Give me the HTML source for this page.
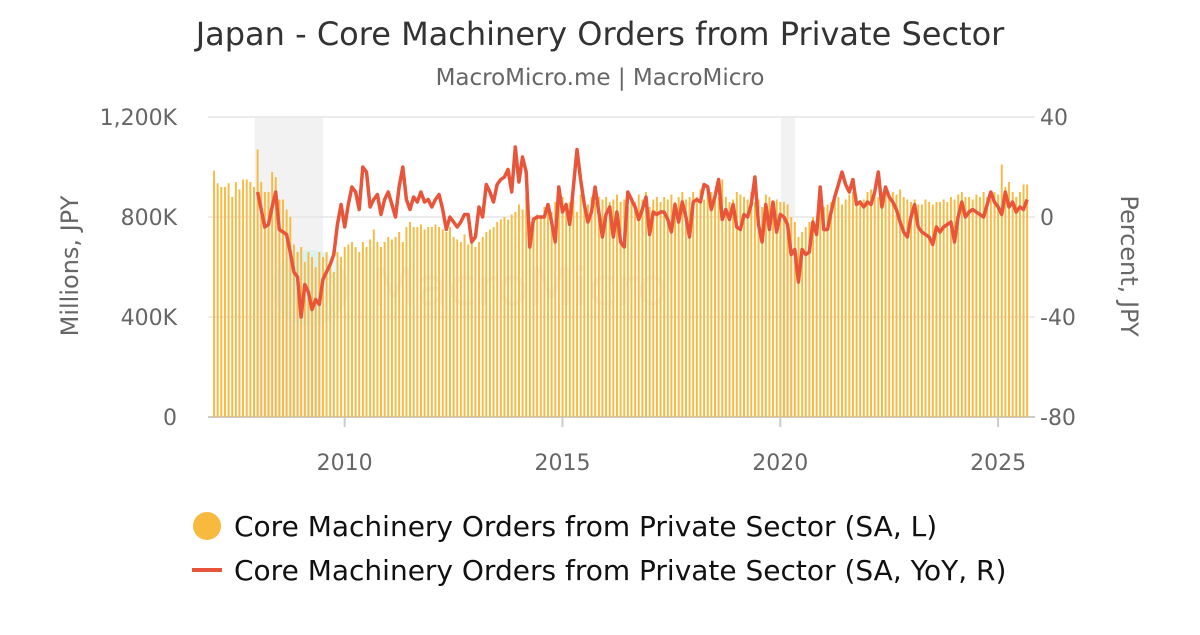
<!DOCTYPE html>
<html><head><meta charset="utf-8"><style>
body{margin:0;background:#fff;width:1200px;height:630px;overflow:hidden;font-family:"Liberation Sans","DejaVu Sans",sans-serif}
</style></head><body>
<svg id="chart" width="1200" height="630" xmlns="http://www.w3.org/2000/svg" style="font-family:'DejaVu Sans','Liberation Sans',sans-serif">
<text x="600" y="45" text-anchor="middle" font-size="32" fill="#333">Japan - Core Machinery Orders from Private Sector</text>
<text x="600" y="85" text-anchor="middle" font-size="23" fill="#666">MacroMicro.me | MacroMicro</text>
<g id="plot"></g>
<text transform="translate(78,266) rotate(-90)" text-anchor="middle" font-size="24" fill="#666">Millions, JPY</text>
<text transform="translate(1121,266) rotate(90)" text-anchor="middle" font-size="24" fill="#666">Percent, JPY</text>
<g>
<circle cx="207" cy="526" r="14" fill="#f7b93e"/>
<text x="234" y="536" font-size="28" fill="#111">Core Machinery Orders from Private Sector (SA, L)</text>
</g>
<g>
<rect x="192" y="568" width="30" height="4" fill="#e8553a"/>
<text x="234" y="580" font-size="28" fill="#111">Core Machinery Orders from Private Sector (SA, YoY, R)</text>
</g>
</svg>
<script>
const bars = [
985,935,920,920,935,880,940,910,950,950,940,920,
1070,940,900,900,980,960,870,870,830,800,690,660,
680,620,660,640,600,660,640,660,620,580,660,640,
680,690,700,680,660,700,680,710,750,700,680,700,
720,710,720,740,700,760,780,760,760,770,750,760,
760,770,760,750,740,760,720,710,700,730,690,700,
680,700,720,740,750,760,780,790,800,790,810,820,
850,830,890,780,800,810,800,840,830,820,860,870,
880,850,860,870,820,890,870,850,880,860,880,870,
880,860,870,890,860,870,840,880,860,890,870,900,
840,870,880,860,880,870,890,860,880,900,870,880,
900,880,910,870,930,900,890,880,950,880,860,870,
900,890,880,870,900,860,870,840,890,880,850,870,
860,860,850,800,780,720,740,760,780,800,790,830,
840,850,860,870,880,850,870,890,900,880,860,870,
900,910,890,880,900,920,880,900,890,910,880,870,
860,870,850,850,870,860,850,860,860,870,860,880,
870,890,900,880,880,870,890,880,900,880,870,900,
890,1010,920,940,900,880,900,930,930];
const lineStart = 12;
const yoy = [
10,3,-4,-3,4,10,-5,-6,-7,-14,-22,-24,
-40,-27,-30,-37,-33,-35,-25,-22,-19,-15,-3,5,
-4,5,12,10,3,20,18,4,7,9,1,7,
10,5,0,12,20,7,3,8,6,10,6,7,
4,7,9,3,-5,0,-2,-4,-2,1,1,-10,
-8,4,0,13,10,6,13,15,16,19,10,28,
14,24,18,-12,-1,0,0,0,5,-2,-10,12,
2,5,-3,12,27,15,5,-2,2,12,2,-8,
1,4,-8,2,-10,-12,10,7,4,-1,3,8,
-7,2,1,2,2,-1,-6,5,-2,6,0,-8,
6,7,6,13,12,3,8,15,-1,3,-1,5,
-4,-5,1,0,5,16,-3,-10,5,-5,6,-6,
1,0,-3,-15,-13,-26,-13,-15,-14,-2,-7,12,
-5,-5,2,8,13,18,13,10,15,5,6,4,
6,5,10,18,4,12,8,6,3,-2,-6,-8,
0,5,-4,-6,-7,-8,-11,-4,-6,-4,-3,-2,
-10,0,6,0,2,3,2,1,0,5,10,6,
4,1,10,4,6,2,4,3,7];
const leftTicks = [0,400,800,1200];
const leftTickLabels = ["0","400K","800K","1,200K"];
const rightTicks = [-80,-40,0,40];
const xYears = [2010,2015,2020,2025];
const recessions = [[12,30],[157,160]];
const startYear = 2007;

const NS="http://www.w3.org/2000/svg";
const g=document.getElementById('plot');
const X0=214, DX=3.63, PL=208, PR=1035, PT=117, PB=417;
const xIdx=i=>X0+i*DX;
const yL=v=>PB-(v/1200)*(PB-PT);
const yR=v=>PB-((v+80)/120)*(PB-PT);
function mk(t,a){const e=document.createElementNS(NS,t);for(const k in a)e.setAttribute(k,a[k]);g.appendChild(e);return e;}

recessions.forEach(r=>{
  const e=mk('rect',{x:xIdx(r[0])-3,y:PT,width:(r[1]-r[0])*DX+3,height:PB-PT,fill:'#f2f2f2'});
  
  
});
leftTicks.forEach((v,i)=>{
  const y=yL(v);
  const l=mk('line',{x1:PL,x2:PR,y1:y,y2:y,stroke:i==0?'#ccc':'#e6e6e6','stroke-width':i==0?2:1.5});
  
  
  const t=mk('text',{x:177,y:y+8,'text-anchor':'end','font-size':22,fill:'#666'});
  t.textContent=leftTickLabels[i];
  
  
});
rightTicks.forEach(v=>{
  const t=mk('text',{x:1040,y:yR(v)+8,'font-size':22,fill:'#666'});
  t.textContent=String(v);
  
  
});
const wm=mk('text',{x:520,y:305,'text-anchor':'middle','font-size':52,fill:'#e8e8e8','fill-opacity':0.5});
wm.textContent='MacroMicro';


const wc=mk('circle',{cx:310,cy:288,r:38,fill:'#c8f0ee','fill-opacity':0.5});



bars.forEach((v,i)=>{
  const y=yL(v);
  const b=mk('rect',{x:xIdx(i)-0.9,y:y,width:1.9,height:PB-y,fill:'#f7b93e'});
  
  
});
const pts=yoy.map((v,i)=>xIdx(i+lineStart).toFixed(1)+','+yR(v).toFixed(1)).join(' ');
const pl=mk('polyline',{points:pts,fill:'none',stroke:'#e8553a','stroke-width':3.5,'stroke-linejoin':'round'});



xYears.forEach(yr=>{
  const x=xIdx((yr-startYear)*12);
  const tk=mk('line',{x1:x,x2:x,y1:PB,y2:PB+10,stroke:'#ccc','stroke-width':2});
  
  
  const t=mk('text',{x:x,y:470,'text-anchor':'middle','font-size':22,fill:'#666'});
  t.textContent=String(yr);
  
  
});
</script>
</body></html>
